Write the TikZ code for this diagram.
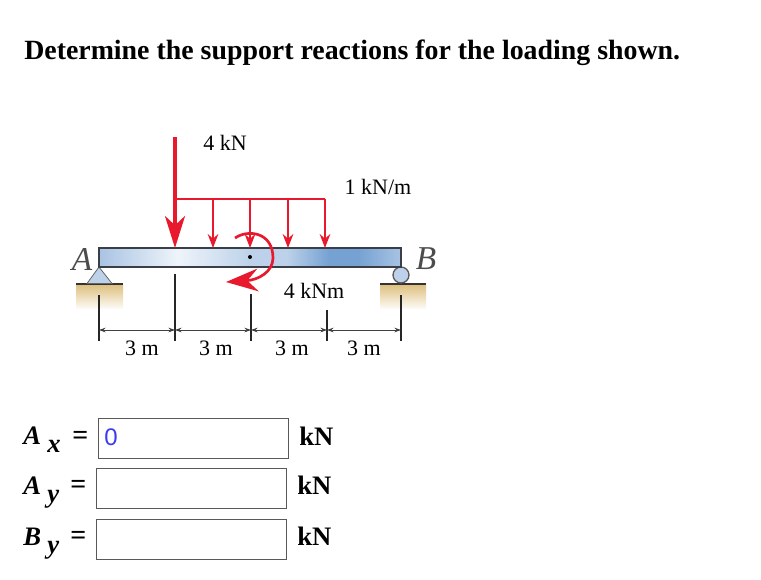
\documentclass[tikz,border=0pt]{standalone}
\usepackage{fontspec}
\setmainfont{Liberation Serif}
\newfontfamily\boxfont{Liberation Sans}
\usetikzlibrary{arrows.meta}
\definecolor{loadred}{HTML}{E8192C}
\definecolor{sandtop}{HTML}{DDBE7C}
\definecolor{beamedge}{HTML}{3A3F47}
\definecolor{zeroblue}{HTML}{3B3BF0}
\definecolor{steelend}{HTML}{A9C3E3}
\definecolor{steelmid}{HTML}{BDD2EA}
\definecolor{steeldark}{HTML}{76A2D3}
\definecolor{steelpale}{HTML}{EEF4FA}
\pgfdeclarehorizontalshading{beamshade}{100bp}{
  color(0bp)=(steelend);
  color(25bp)=(steelend);
  color(38bp)=(steelpale);
  color(50bp)=(steelmid);
  color(56bp)=(steelmid);
  color(63bp)=(steeldark);
  color(68bp)=(steeldark);
  color(75bp)=(steelend);
  color(100bp)=(steelend)}
\tikzset{
  heavyload/.style={draw=loadred,line width=2.6pt,-{Stealth[length=24pt,width=15pt,inset=7pt]}},
  lightload/.style={draw=loadred,line width=1pt,-{Stealth[length=10.5pt,width=8pt,inset=3.5pt]}},
  dimline/.style={draw=black!75,line width=.6pt,{Stealth[length=5pt,width=3.5pt]}-{Stealth[length=5pt,width=3.5pt]}},
  extline/.style={draw=black!85,line width=.8pt},
  sand/.style={top color=sandtop,bottom color=sandtop!8!white,draw=none},
  label/.style={font=\fontsize{16.5}{19}\selectfont,inner sep=0pt},
  namelabel/.style={font=\fontsize{25}{28}\selectfont\itshape,inner sep=0pt,text=black!70},
  anslabel/.style={font=\fontsize{20}{24}\selectfont\bfseries\itshape,inner sep=0pt},
  unitlabel/.style={font=\fontsize{20}{24}\selectfont\bfseries,inner sep=0pt},
  eqlabel/.style={font=\fontsize{21}{24}\selectfont\bfseries,inner sep=0pt},
  ansbox/.style={draw=black!65,line width=.6pt,minimum width=142.5pt,minimum height=30pt,inner sep=0pt,fill=white}
}
\begin{document}
\begin{tikzpicture}[x=.75pt,y=-.75pt]
\useasboundingbox (0,0) rectangle (761,579);
\node[anchor=west,inner sep=0pt,font=\fontsize{20.9}{25}\selectfont\bfseries] (title) at (24,53) {Determine the support reactions for the loading shown.};
\fill[sand] (76,284) rectangle (123,308);
\fill[sand] (380,284) rectangle (426,308);
\draw[black!80,line width=.8pt] (76,284) -- (123,284);
\draw[black!80,line width=.8pt] (380,284) -- (426,284);
\draw[black!60,line width=.6pt,fill=steelmid] (99,267) -- (112,283.5) -- (87,283.5) -- cycle;
\draw[black!65,line width=1pt,fill=steelmid] (401,275) circle (8);
\path[shading=beamshade,draw=beamedge,line width=.9pt] (99,248) rectangle (401,267);
\fill[black] (250,257) circle (2);
\coordinate (loadtop) at (175,137);
\coordinate (loadbeam) at (175,248);
\coordinate (udlleft) at (175,199);
\coordinate (udlright) at (325,199);
\draw[heavyload] (loadtop) -- (loadbeam);
\draw[draw=loadred,line width=1pt] (udlleft) -- (udlright);
\foreach \xload/\nameload in {213/one,250/two,288/three,325/four}{
  \coordinate (udl\nameload) at (\xload,199);
  \coordinate (beam\nameload) at (\xload,248);
  \draw[lightload] (udl\nameload) -- (beam\nameload);
}
\draw[draw=loadred,line width=2pt,-{Stealth[length=24pt,width=17pt,inset=8pt]}] (235,238) .. controls (248,229) and (273,232) .. (273,258) .. controls (273,272) and (258,280) .. (226,282);
\foreach \xext/\ytop/\nameext in {99/295/a,175/274/b,251/294/c,327/310/d,401/295/e}{
  \coordinate (ext\nameext) at (\xext,\ytop);
  \coordinate (foot\nameext) at (\xext,341);
  \draw[extline] (ext\nameext) -- (foot\nameext);
  \coordinate (dim\nameext) at (\xext,330);
}
\draw[dimline] (dima) -- (dimb);
\draw[dimline] (dimb) -- (dimc);
\draw[dimline] (dimc) -- (dimd);
\draw[dimline] (dimd) -- (dime);
\node[label] (forcelabel) at (225,143) {4 kN};
\node[label] (udllabel) at (378,187) {1 kN/m};
\node[label] (momentlabel) at (314,291) {4 kNm};
\node[namelabel] (alabel) at (82,259) {A};
\node[namelabel] (blabel) at (426,259) {B};
\node[label] (dimone) at (142,348) {3 m};
\node[label] (dimtwo) at (216,348) {3 m};
\node[label] (dimthree) at (292,348) {3 m};
\node[label] (dimfour) at (364,348) {3 m};
\node[ansbox] (axbox) at (193,438) {};
\node[ansbox] (aybox) at (191,488) {};
\node[ansbox] (bybox) at (191,539) {};
\node[anchor=west,inner sep=0pt,text=zeroblue,font=\fontsize{18}{20}\selectfont\boxfont] (axvalue) at (104,437) {0};
\node[anslabel,anchor=base west] (axname) at (23,444) {A};
\node[anslabel,anchor=base west] (axsub) at (47,452) {x};
\node[anslabel,anchor=base west] (ayname) at (23,494) {A};
\node[anslabel,anchor=base west] (aysub) at (47,502) {y};
\node[anslabel,anchor=base west] (byname) at (23,545) {B};
\node[anslabel,anchor=base west] (bysub) at (47,553) {y};
\node[eqlabel,anchor=base west] (axeq) at (72,444) {=};
\node[eqlabel,anchor=base west] (ayeq) at (70,493) {=};
\node[eqlabel,anchor=base west] (byeq) at (70,544) {=};
\node[unitlabel,anchor=base west] (axunit) at (299,445) {kN};
\node[unitlabel,anchor=base west] (ayunit) at (297,494) {kN};
\node[unitlabel,anchor=base west] (byunit) at (297,545) {kN};
\end{tikzpicture}
\end{document}
